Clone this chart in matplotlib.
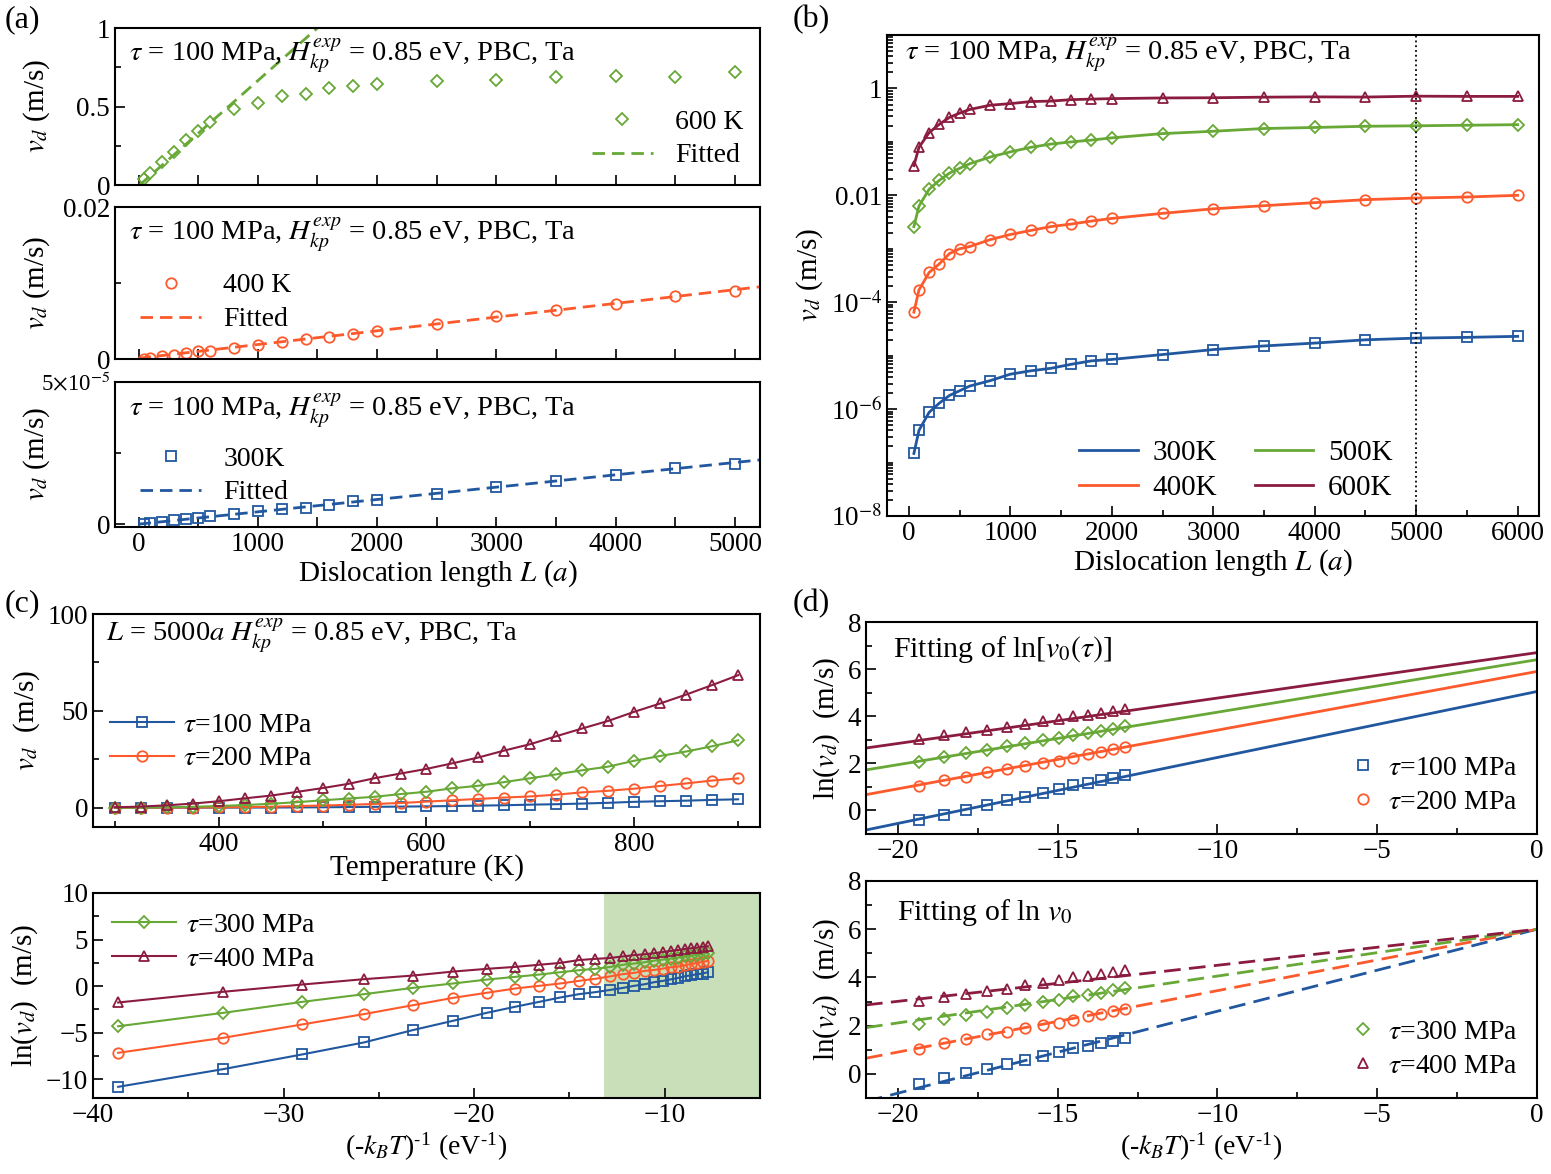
import numpy as np
import matplotlib
matplotlib.use("Agg")
import matplotlib.pyplot as plt
from matplotlib.ticker import MultipleLocator, FixedLocator, LogLocator, NullFormatter

plt.rcParams['font.family'] = ['Liberation Serif', 'DejaVu Serif']
plt.rcParams['mathtext.fontset'] = 'stix'

# ---------------- data ----------------
L_vals = [50, 100, 200, 300, 400, 500, 600, 800, 1000, 1200, 1400, 1600, 1800, 2000,
          2500, 3000, 3500, 4000, 4500, 5000, 5500, 6000]
v_300K = [1.48e-7, 4.0e-7, 8.7e-7, 1.29e-6, 1.8e-6, 2.2e-6, 2.7e-6, 3.4e-6, 4.5e-6, 5.2e-6,
          5.8e-6, 6.9e-6, 8.0e-6, 8.5e-6, 1.05e-5, 1.3e-5, 1.52e-5, 1.72e-5, 1.98e-5, 2.13e-5,
          2.2e-5, 2.3e-5]
v_400K = [6.5e-5, 1.7e-4, 3.6e-4, 5.2e-4, 8.1e-4, 1.0e-3, 1.1e-3, 1.48e-3, 1.85e-3, 2.2e-3,
          2.6e-3, 2.9e-3, 3.3e-3, 3.7e-3, 4.6e-3, 5.6e-3, 6.4e-3, 7.3e-3, 8.3e-3, 8.9e-3,
          9.3e-3, 1.0e-2]
v_500K = [0.0026, 0.0063, 0.013, 0.019, 0.026, 0.032, 0.039, 0.052, 0.065, 0.079, 0.091, 0.1,
          0.108, 0.119, 0.143, 0.158, 0.178, 0.186, 0.196, 0.2, 0.205, 0.21]
v_600K = [0.036, 0.079, 0.149, 0.213, 0.287, 0.345, 0.404, 0.485, 0.52, 0.568, 0.58, 0.617,
          0.632, 0.645, 0.664, 0.67, 0.687, 0.696, 0.69, 0.717, 0.71, 0.71]

fit600_L = [10, 1500]
fit600_v = [0.0, 1.0]
fit400_L = [0, 5210]
fit400_v = [0.0001, 0.0095]
fit300_L = [0, 5210]
fit300_v = [0.0, 2.26e-5]

T_vals = [300, 325, 350, 375, 400, 425, 450, 475, 500, 525, 550, 575, 600, 625, 650, 675, 700,
          725, 750, 775, 800, 825, 850, 875, 900]
vT_100 = [0.0, 0.0, 0.0, 0.0, 0.01, 0.02, 0.06, 0.11, 0.19, 0.3, 0.42, 0.53, 0.66, 0.83, 1.04,
          1.23, 1.54, 1.77, 2.1, 2.5, 3.0, 3.3, 3.6, 4.0, 4.3]
vT_200 = [0.0, 0.0, 0.02, 0.05, 0.13, 0.29, 0.5, 0.8, 1.1, 1.45, 1.9, 2.4, 3.1, 3.8, 4.5, 5.2,
          5.8, 6.7, 7.9, 8.7, 9.8, 11.2, 12.5, 14.0, 15.1]
vT_300 = [0.01, 0.06, 0.19, 0.42, 0.84, 1.34, 2.0, 2.8, 3.8, 4.7, 5.6, 7.0, 8.2, 10.0, 11.3,
          13.2, 15.2, 17.2, 19.3, 21.2, 24.2, 26.7, 29.0, 31.7, 34.8]
vT_400 = [0.17, 0.55, 1.2, 2.1, 3.3, 4.8, 6.2, 8.1, 10.1, 12.3, 15.2, 17.6, 20.0, 22.9, 25.9,
          29.5, 32.8, 36.9, 40.9, 44.8, 49.5, 53.8, 58.4, 63.3, 68.4]

x_c = [-38.68, -33.16, -29.01, -25.79, -23.21, -21.10, -19.34, -17.85, -16.58, -15.47, -14.51,
       -13.65, -12.89, -12.21, -11.60, -11.05, -10.55, -10.09, -9.67, -9.28, -8.93, -8.60,
       -8.29, -8.00, -7.74]
ln_100 = [-10.8, -8.9, -7.32, -6.04, -4.71, -3.71, -2.86, -2.21, -1.68, -1.21, -0.86, -0.64,
          -0.41, -0.19, 0.04, 0.21, 0.43, 0.57, 0.74, 0.89, 1.07, 1.17, 1.29, 1.36, 1.5]
ln_200 = [-7.15, -5.54, -4.1, -3.0, -2.04, -1.25, -0.71, -0.25, 0.04, 0.29, 0.57, 0.79, 1.04,
          1.29, 1.43, 1.64, 1.74, 1.89, 2.03, 2.11, 2.24, 2.39, 2.5, 2.61, 2.71]
ln_300 = [-4.3, -2.86, -1.68, -0.86, -0.18, 0.29, 0.71, 1.0, 1.25, 1.5, 1.71, 1.86, 2.05, 2.29,
          2.43, 2.57, 2.74, 2.86, 2.97, 3.07, 3.21, 3.29, 3.36, 3.46, 3.57]
ln_400 = [-1.75, -0.6, 0.18, 0.75, 1.14, 1.57, 1.86, 2.07, 2.3, 2.5, 2.8, 2.93, 3.02, 3.19,
          3.33, 3.43, 3.54, 3.67, 3.79, 3.89, 4.0, 4.07, 4.14, 4.24, 4.29]
shade_range = [-13.2, -5.0]

x_d = [-19.34, -18.57, -17.86, -17.20, -16.58, -16.01, -15.47, -14.97, -14.51, -14.06, -13.65,
       -13.26, -12.89]
fit_x = [-21, 0]
fitA_100 = [-0.83, 5.05]
fitA_200 = [0.67, 5.9]
fitA_300 = [1.72, 6.4]
fitA_400 = [2.65, 6.7]
fitB_100 = [-1.14, 6.0]
fitB_200 = [0.65, 6.0]
fitB_300 = [1.92, 6.0]
fitB_400 = [2.86, 6.0]

# ---------------- style ----------------
C_BLUE = '#21579f'
C_ORG = '#fc5a2c'
C_GRN = '#67a836'
C_MAR = '#8b1c3f'
FS_TICK = 19.5
FS_LAB = 21
FS_TXT = 20.5
FS_LEG = 20
MS = 7.5
MEW = 1.3

fig = plt.figure(figsize=(15.51, 11.74), dpi=100)
W, H = 1551, 1174


def rect(l, r, t, b):
    return [l / W, 1 - b / H, (r - l) / W, (b - t) / H]


def style(ax):
    ax.tick_params(which='both', direction='in', top=False, right=False, labelsize=FS_TICK, width=1.2)
    ax.tick_params(which='major', length=7)
    ax.tick_params(which='minor', length=4)
    for s in ax.spines.values():
        s.set_linewidth(1.5)


annot = r'$\tau$ = 100 MPa, $H_{kp}^{exp}$ = 0.85 eV, PBC, Ta'
mk = dict(mfc='none', mew=MEW, ms=MS)
sup = r'$^{\mathregular{\text{-}1}}$'
leg_kw = dict(frameon=False, labelspacing=0.3)

# ---------------- panel (a) ----------------
a1 = fig.add_axes(rect(115, 760, 28, 185))
a2 = fig.add_axes(rect(115, 760, 207, 359))
a3 = fig.add_axes(rect(115, 760, 382, 527))
for ax in (a1, a2, a3):
    style(ax)
    ax.set_xlim(-197, 5210)
    ax.xaxis.set_major_locator(MultipleLocator(1000))
    ax.xaxis.set_minor_locator(MultipleLocator(500))
    ax.tick_params(axis='x', which='minor', length=7)
    ax.set_ylabel(r'$v_d$ (m/s)', fontsize=FS_LAB)
    ax.yaxis.set_label_coords(-0.098, 0.5)

n_a = 20
a1.plot(L_vals[:n_a], v_600K[:n_a], ls='none', marker='D', color=C_GRN, ms=6, mfc='none', mew=MEW, label='600 K')
a1.plot(fit600_L, fit600_v, ls='--', dashes=(4.5, 2.5), lw=2, color=C_GRN, label='Fitted')
a1.set_ylim(0, 1)
a1.set_yticks([0, 0.5, 1])
a1.set_yticklabels(['0', '0.5', '1'])
a1.yaxis.set_minor_locator(FixedLocator([0.25, 0.75]))
a1.tick_params(labelbottom=False)
a1.text(0.022, 0.82, annot, transform=a1.transAxes, fontsize=FS_TXT, va='center')
a1.legend(loc='lower right', fontsize=FS_LEG, handlelength=2.2, borderaxespad=0.2, **leg_kw)

a2.plot(L_vals[:n_a], v_400K[:n_a], ls='none', marker='o', color=C_ORG, label='400 K', **mk)
a2.plot(fit400_L, fit400_v, ls='--', dashes=(4.5, 2.5), lw=2, color=C_ORG, label='Fitted')
a2.set_ylim(0, 0.02)
a2.set_yticks([0, 0.02])
a2.set_yticklabels(['0', '0.02'])
a2.yaxis.set_minor_locator(FixedLocator([0.01]))
a2.tick_params(labelbottom=False)
a2.text(0.022, 0.82, annot, transform=a2.transAxes, fontsize=FS_TXT, va='center')
a2.legend(loc='upper left', bbox_to_anchor=(0.0, 0.73), fontsize=FS_LEG, handlelength=2.2, **leg_kw)

a3.plot(L_vals[:n_a], v_300K[:n_a], ls='none', marker='s', color=C_BLUE, label='300K', **mk)
a3.plot(fit300_L, fit300_v, ls='--', dashes=(4.5, 2.5), lw=2, color=C_BLUE, label='Fitted')
a3.set_ylim(-1e-6, 5e-5)
a3.set_yticks([0, 5e-5])
a3.set_yticklabels(['0', r'5$\times$10$^{-5}$'])
a3.yaxis.set_minor_locator(FixedLocator([2.5e-5]))
a3.get_yticklabels()[1].set_fontsize(16.5)
a3.text(0.022, 0.8, annot, transform=a3.transAxes, fontsize=FS_TXT, va='center')
a3.legend(loc='upper left', bbox_to_anchor=(0.0, 0.73), fontsize=FS_LEG, handlelength=2.2, **leg_kw)
a3.set_xlabel(r'Dislocation length $L$ ($a$)', fontsize=FS_LAB, labelpad=1)

# ---------------- panel (b) ----------------
b = fig.add_axes(rect(887, 1539, 35, 516))
style(b)
b.set_yscale('log')
b.plot(L_vals, v_300K, color=C_BLUE, lw=2, marker='s', label='300K', **mk)
b.plot(L_vals, v_400K, color=C_ORG, lw=2, marker='o', label='400K', **mk)
b.plot(L_vals, v_500K, color=C_GRN, lw=2, marker='D', ms=6, mfc='none', mew=MEW, label='500K')
b.plot(L_vals, v_600K, color=C_MAR, lw=2, marker='^', ms=MS, mfc='none', mew=MEW, label='600K')
b.axvline(5000, color='k', ls=':', lw=1.3)
b.set_xlim(-215, 6210)
b.set_ylim(1e-8, 10)
b.xaxis.set_major_locator(MultipleLocator(1000))
b.xaxis.set_minor_locator(MultipleLocator(500))
b.set_yticks([1e-8, 1e-6, 1e-4, 1e-2, 1])
b.set_yticklabels([r'10$^{-8}$', r'10$^{-6}$', r'10$^{-4}$', '0.01', '1'])
b.yaxis.set_minor_locator(LogLocator(base=10, subs=np.arange(1, 10), numticks=30))
b.yaxis.set_minor_formatter(NullFormatter())
b.set_xlabel(r'Dislocation length $L$ ($a$)', fontsize=FS_LAB, labelpad=1)
b.set_ylabel(r'$v_d$ (m/s)', fontsize=FS_LAB)
b.text(0.028, 0.958, annot, transform=b.transAxes, fontsize=FS_TXT, va='center')
handles = [plt.Line2D([], [], color=c, lw=2) for c in (C_BLUE, C_ORG, C_GRN, C_MAR)]
b.legend(handles, ['300K', '400K', '500K', '600K'], ncol=2, loc='lower right',
         bbox_to_anchor=(0.802, -0.005), fontsize=FS_LEG + 1, handlelength=2.0,
         columnspacing=1.3, borderaxespad=0.2, handletextpad=0.5, **leg_kw)

# ---------------- panel (c) ----------------
c1 = fig.add_axes(rect(93, 760, 614, 827))
style(c1)
c1.plot(T_vals, vT_100, color=C_BLUE, lw=1.5, marker='s', label=r'$\tau$=100 MPa', **mk)
c1.plot(T_vals, vT_200, color=C_ORG, lw=1.5, marker='o', label=r'$\tau$=200 MPa', **mk)
c1.plot(T_vals, vT_300, color=C_GRN, lw=1.5, marker='D', ms=6, mfc='none', mew=MEW)
c1.plot(T_vals, vT_400, color=C_MAR, lw=1.5, marker='^', **mk)
c1.set_xlim(279, 921)
c1.set_ylim(-10, 100)
c1.xaxis.set_major_locator(MultipleLocator(200))
c1.xaxis.set_minor_locator(MultipleLocator(100))
c1.yaxis.set_major_locator(MultipleLocator(50))
c1.yaxis.set_minor_locator(MultipleLocator(25))
c1.set_xlabel('Temperature (K)', fontsize=FS_LAB, labelpad=-2)
c1.set_ylabel(r'$v_d$  (m/s)', fontsize=FS_LAB)
c1.text(0.02, 0.9, r'$L$ = 5000$a$ $H_{kp}^{exp}$ = 0.85 eV, PBC, Ta', transform=c1.transAxes,
        fontsize=FS_TXT, va='center')
c1.legend(loc='center left', bbox_to_anchor=(0.0, 0.4), fontsize=FS_LEG, handlelength=2.3,
          borderaxespad=0.2, handletextpad=0.35, **leg_kw)

c2 = fig.add_axes(rect(93, 760, 893, 1098))
style(c2)
c2.axvspan(shade_range[0], shade_range[1], color='#c9dfba', zorder=0, lw=0)
c2.plot(x_c, ln_100, color=C_BLUE, lw=1.5, marker='s', **mk)
c2.plot(x_c, ln_200, color=C_ORG, lw=1.5, marker='o', **mk)
c2.plot(x_c, ln_300, color=C_GRN, lw=1.5, marker='D', ms=6, mfc='none', mew=MEW, label=r'$\tau$=300 MPa')
c2.plot(x_c, ln_400, color=C_MAR, lw=1.5, marker='^', label=r'$\tau$=400 MPa', **mk)
c2.set_xlim(-40, -5)
c2.set_ylim(-12, 10)
c2.xaxis.set_major_locator(MultipleLocator(10))
c2.xaxis.set_minor_locator(MultipleLocator(5))
c2.yaxis.set_major_locator(MultipleLocator(5))
c2.yaxis.set_minor_locator(MultipleLocator(2.5))
c2.set_xlabel(r'(-$k_BT$)' + sup + ' (eV' + sup + ')', fontsize=FS_LAB - 1, labelpad=2)
c2.set_ylabel(r'ln($v_d$)  (m/s)', fontsize=FS_LAB)
c2.legend(loc='upper left', fontsize=FS_LEG, handlelength=2.3, borderaxespad=0.3,
          handletextpad=0.35, **leg_kw)

# ---------------- panel (d) ----------------
d1 = fig.add_axes(rect(866, 1537, 622, 834))
d2 = fig.add_axes(rect(866, 1537, 881, 1098))
for ax in (d1, d2):
    style(ax)
    ax.set_xlim(-21, 0)
    ax.set_ylim(-1, 8)
    ax.xaxis.set_major_locator(MultipleLocator(5))
    ax.xaxis.set_minor_locator(MultipleLocator(2.5))
    ax.yaxis.set_major_locator(MultipleLocator(2))
    ax.yaxis.set_minor_locator(MultipleLocator(1))
    ax.set_ylabel(r'ln($v_d$)  (m/s)', fontsize=FS_LAB)

n0 = 12
d1.plot(fit_x, fitA_100, color=C_BLUE, lw=2)
d1.plot(fit_x, fitA_200, color=C_ORG, lw=2)
d1.plot(fit_x, fitA_300, color=C_GRN, lw=2)
d1.plot(fit_x, fitA_400, color=C_MAR, lw=2)
d1.plot(x_d, ln_100[n0:], ls='none', marker='s', color=C_BLUE, label=r'$\tau$=100 MPa', **mk)
d1.plot(x_d, ln_200[n0:], ls='none', marker='o', color=C_ORG, label=r'$\tau$=200 MPa', **mk)
d1.plot(x_d, ln_300[n0:], ls='none', marker='D', color=C_GRN, ms=6, mfc='none', mew=MEW)
d1.plot(x_d, ln_400[n0:], ls='none', marker='^', color=C_MAR, **mk)
d1.text(0.04, 0.87, r'Fitting of ln[$v_0(\tau)$]', transform=d1.transAxes, fontsize=FS_TXT + 1, va='center')
d1.legend(loc='lower right', fontsize=FS_LEG, handlelength=1.0, borderaxespad=0.3,
          handletextpad=0.4, **leg_kw)

dash = (6, 3)
d2.plot(fit_x, fitB_100, color=C_BLUE, lw=2, ls='--', dashes=dash)
d2.plot(fit_x, fitB_200, color=C_ORG, lw=2, ls='--', dashes=dash)
d2.plot(fit_x, fitB_300, color=C_GRN, lw=2, ls='--', dashes=dash)
d2.plot(fit_x, fitB_400, color=C_MAR, lw=2, ls='--', dashes=dash)
d2.plot(x_d, ln_100[n0:], ls='none', marker='s', color=C_BLUE, **mk)
d2.plot(x_d, ln_200[n0:], ls='none', marker='o', color=C_ORG, **mk)
d2.plot(x_d, ln_300[n0:], ls='none', marker='D', color=C_GRN, ms=6, mfc='none', mew=MEW, label=r'$\tau$=300 MPa')
d2.plot(x_d, ln_400[n0:], ls='none', marker='^', color=C_MAR, label=r'$\tau$=400 MPa', **mk)
d2.text(0.046, 0.857, r'Fitting of ln $v_0$', transform=d2.transAxes, fontsize=FS_TXT + 1, va='center')
d2.legend(loc='lower right', fontsize=FS_LEG, handlelength=1.0, borderaxespad=0.3,
          handletextpad=0.4, **leg_kw)
d2.set_xlabel(r'(-$k_BT$)' + sup + ' (eV' + sup + ')', fontsize=FS_LAB - 1, labelpad=2)

# panel letters
for lab, (px, py) in {'(a)': (5, 20), '(b)': (793, 20), '(c)': (5, 604), '(d)': (793, 604)}.items():
    fig.text(px / W, 1 - py / H, lab, fontsize=23, va='center', ha='left')

fig.savefig('out.png', dpi=100)
